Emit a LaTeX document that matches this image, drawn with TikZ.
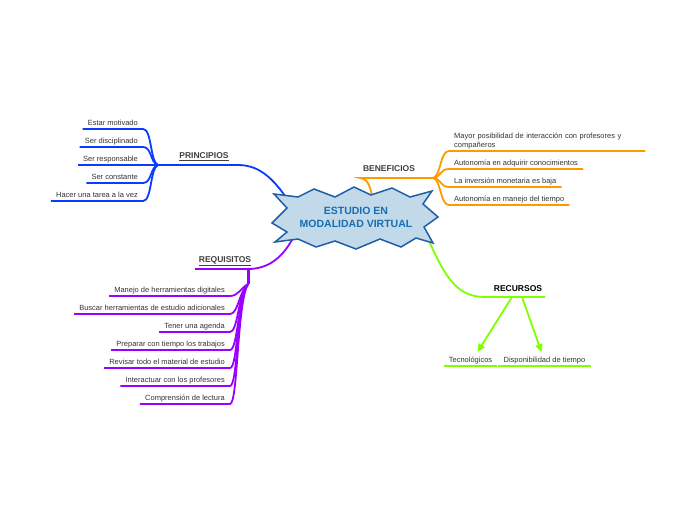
\documentclass[tikz,border=0pt]{standalone}
\usepackage{fontspec}
\setmainfont{Liberation Sans}
\usetikzlibrary{arrows.meta,calc}
\definecolor{princ}{RGB}{10,60,255}
\definecolor{benef}{RGB}{255,153,0}
\definecolor{requi}{RGB}{153,0,255}
\definecolor{recur}{RGB}{128,255,0}
\definecolor{starfill}{RGB}{194,217,234}
\definecolor{starline}{RGB}{31,95,166}
\definecolor{startext}{RGB}{23,110,180}
\begin{document}
\begin{tikzpicture}[x=1pt,y=-1pt,
 leaf/.style={font=\fontsize{7.5}{9}\selectfont, text=black!80, inner xsep=5pt, inner ysep=3.5pt, text depth=0pt},
 lbl/.style={font=\fontsize{8.5}{10}\selectfont\bfseries, text=black!75},
 blu/.style={draw=princ, line width=1.8pt},
 ora/.style={draw=benef, line width=1.8pt},
 pur/.style={draw=requi, line width=1.8pt},
 gre/.style={draw=recur, line width=1.8pt},
 burst/.style={fill=starfill, draw=starline, line width=1.5pt}]
\useasboundingbox (0,0) rectangle (697,520);
% PRINCIPIOS
\coordinate (phub) at (158,165);
\draw[blu] (phub) -- (238,165) .. controls (262,165) and (276,182) .. (292,206);
\node[lbl] (princ) at (204,157) {\underline{PRINCIPIOS}};
\node[leaf, anchor=south east] (p1) at (143,129) {Estar motivado};
\node[leaf, anchor=south east] (p2) at (143,147) {Ser disciplinado};
\node[leaf, anchor=south east] (p3) at (143,165) {Ser responsable};
\node[leaf, anchor=south east] (p4) at (143,183) {Ser constante};
\node[leaf, anchor=south east] (p5) at (143,201) {Hacer una tarea a la vez};
\draw[blu] (p1.south west) -- (p1.south east) .. controls (152,129) and (150,162) .. (phub);
\draw[blu] (p2.south west) -- (p2.south east) .. controls (152,147) and (150,163) .. (phub);
\draw[blu] (p3.south west) -- (phub);
\draw[blu] (p4.south west) -- (p4.south east) .. controls (152,183) and (150,167) .. (phub);
\draw[blu] (p5.south west) -- (p5.south east) .. controls (152,201) and (150,168) .. (phub);
% BENEFICIOS
\coordinate (bhub) at (433,178);
\draw[ora] (372,196) .. controls (370,184) and (366,178) .. (360,178) -- (bhub);
\node[lbl] (benef) at (389,169) {BENEFICIOS};
\node[leaf, anchor=south west, text width=186pt, align=left, text depth=9pt] (b1) at (449,151) {Mayor posibilidad de interacción con profesores y compañeros};
\node[leaf, anchor=south west] (b2) at (449,169) {Autonomía en adquirir conocimientos};
\node[leaf, anchor=south west] (b3) at (449,187) {La inversión monetaria es baja};
\node[leaf, anchor=south west] (b4) at (449,205) {Autonomía en manejo del tiempo};
\draw[ora] (bhub) .. controls (441,176) and (440,151) .. (b1.south west) -- (b1.south east);
\draw[ora] (bhub) .. controls (441,177) and (440,169) .. (b2.south west) -- (b2.south east);
\draw[ora] (bhub) .. controls (441,178) and (440,187) .. (b3.south west) -- (b3.south east);
\draw[ora] (bhub) .. controls (441,179) and (440,205) .. (b4.south west) -- (b4.south east);
% REQUISITOS
\coordinate (qtop) at (248,269);
\coordinate (qhub) at (248,284);
\draw[pur] (195,269) -- (qtop) .. controls (268,269) and (284,258) .. (296,232);
\draw[pur, line width=3pt] (qtop) -- (qhub);
\node[lbl] (requi) at (225,261) {\underline{REQUISITOS}};
\node[leaf, anchor=south east] (q1) at (230,296) {Manejo de herramientas digitales};
\node[leaf, anchor=south east] (q2) at (230,314) {Buscar herramientas de estudio adicionales};
\node[leaf, anchor=south east] (q3) at (230,332) {Tener una agenda};
\node[leaf, anchor=south east] (q4) at (230,350) {Preparar con tiempo los trabajos};
\node[leaf, anchor=south east] (q5) at (230,368) {Revisar todo el material de estudio};
\node[leaf, anchor=south east] (q6) at (230,386) {Interactuar con los profesores};
\node[leaf, anchor=south east] (q7) at (230,404) {Comprensión de lectura};
\draw[pur] (q1.south west) -- (q1.south east) .. controls (238,296) and (241,288) .. (qhub);
\draw[pur] (q2.south west) -- (q2.south east) .. controls (238,314) and (239,292) .. (qhub);
\draw[pur] (q3.south west) -- (q3.south east) .. controls (238,332) and (238,294) .. (qhub);
\draw[pur] (q4.south west) -- (q4.south east) .. controls (238,350) and (238,296) .. (qhub);
\draw[pur] (q5.south west) -- (q5.south east) .. controls (238,368) and (237,298) .. (qhub);
\draw[pur] (q6.south west) -- (q6.south east) .. controls (238,386) and (237,300) .. (qhub);
\draw[pur] (q7.south west) -- (q7.south east) .. controls (238,404) and (237,302) .. (qhub);
% RECURSOS
\coordinate (ghub) at (485,297);
\coordinate (ra) at (512,297);
\coordinate (rb) at (522,297);
\draw[gre] (424,230) .. controls (444,275) and (455,297) .. (ghub) -- (545,297);
\node[lbl, text=black] (recur) at (518,289) {RECURSOS};
\node[leaf, minimum width=51pt, anchor=south] (tec) at (470.5,366) {Tecnológicos};
\node[leaf, minimum width=89pt, anchor=south] (disp) at (544.5,366) {Disponibilidad de tiempo};
\draw[gre] (tec.south west) -- (tec.south east);
\draw[gre] (disp.south west) -- (disp.south east);
\draw[gre, -{Triangle[length=8pt,width=7pt]}] (ra) -- ($(tec.north)+(7,-1)$);
\draw[gre, -{Triangle[length=8pt,width=7pt]}] (rb) -- ($(disp.north)+(-3,-1)$);
% centro
\filldraw[burst] (274,194) -- (298,197) -- (314,189) -- (335,197) -- (354,187) -- (371,195) -- (392,188) -- (410,197) -- (432,191) -- (423,204) -- (438,217) -- (424,227) -- (433,243) -- (416,238) -- (401,247) -- (380,239) -- (356,249) -- (335,241) -- (316,247) -- (298,239) -- (275,242) -- (287,232) -- (272,223) -- (287,208) -- cycle;
\node[font=\fontsize{10.5}{13}\selectfont\bfseries, text=startext, align=center] (centro) at (356,217) {ESTUDIO EN\\MODALIDAD VIRTUAL};
\end{tikzpicture}
\end{document}
